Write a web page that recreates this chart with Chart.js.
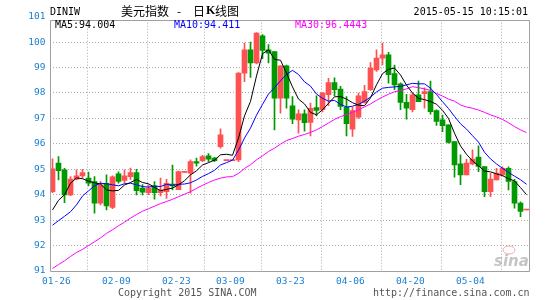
<!DOCTYPE html>
<html>
<head>
<meta charset="utf-8">
<script src="https://cdn.jsdelivr.net/npm/chart.js@4.4.0/dist/chart.umd.min.js"></script>
<style>
  html, body { margin: 0; padding: 0; background: #fff; }
  #wrap { width: 545px; height: 300px; }
</style>
</head>
<body>
<div id="wrap"><canvas id="kChart" width="545" height="300"></canvas></div>
<script>
// trading days shown on the chart
const dates = ["01-23",
  "01-26", "01-27", "01-28", "01-29", "01-30", "02-02", "02-03", "02-04", "02-05", "02-06",
  "02-09", "02-10", "02-11", "02-12", "02-13", "02-16", "02-17", "02-18", "02-19", "02-20",
  "02-23", "02-24", "02-25", "02-26", "03-02", "03-03", "03-04", "03-05", "03-06",
  "03-09", "03-10", "03-11", "03-12", "03-13", "03-16", "03-17", "03-18", "03-19", "03-20",
  "03-23", "03-24", "03-25", "03-26", "03-27", "03-30", "03-31", "04-01", "04-02", "04-03",
  "04-06", "04-07", "04-08", "04-09", "04-10", "04-13", "04-14", "04-15", "04-16", "04-17",
  "04-20", "04-21", "04-22", "04-23", "04-24", "04-27", "04-28", "04-29", "04-30", "05-01",
  "05-04", "05-05", "05-06", "05-07", "05-08", "05-11", "05-12", "05-13", "05-14", "05-15"];

const opens = [94.12, 95.24, 94.98, 93.99, 94.61, 94.74, 94.65, 94.52, 93.67, 94.45,
  93.50, 94.82, 94.56, 94.71, 94.87, 94.26, 94.08, 94.35, 94.08, 94.12,
  94.42, 94.20, 94.88, 94.85, 95.30, 95.34, 95.53, 95.44, 95.89, 95.34,
  95.34, 95.37, 98.78, 99.70, 99.18, 100.25, 99.70, 99.63, 97.80, 99.07,
  97.50, 96.94, 97.18, 96.84, 97.43, 97.34, 97.93, 98.41, 98.15, 97.44,
  96.58, 97.05, 97.63, 98.13, 98.91, 99.37, 99.50, 98.76, 98.36, 97.63,
  97.34, 97.93, 97.97, 98.06, 97.31, 96.94, 96.75, 96.09, 95.21, 94.78,
  95.21, 95.48, 95.11, 94.12, 94.58, 94.78, 95.04, 94.52, 93.67, 93.40];

const highs = [95.41, 95.50, 95.04, 94.71, 94.98, 95.00, 94.89, 94.71, 94.52, 94.78,
  94.74, 94.90, 94.98, 95.05, 95.00, 94.40, 94.39, 94.52, 94.65, 94.60,
  95.17, 94.93, 94.88, 95.37, 95.44, 95.55, 95.62, 95.47, 96.59, 95.34,
  95.34, 98.80, 99.96, 100.00, 100.38, 100.30, 99.90, 99.63, 99.07, 99.10,
  97.86, 97.34, 97.34, 97.60, 97.89, 98.02, 98.58, 98.60, 98.26, 97.86,
  97.45, 98.00, 98.30, 99.20, 99.70, 99.96, 99.60, 99.10, 98.40, 97.95,
  98.00, 98.47, 98.20, 98.47, 97.34, 97.13, 96.75, 96.09, 95.57, 95.39,
  95.76, 95.92, 95.11, 94.85, 95.04, 95.10, 95.10, 94.60, 93.72, 93.40];

const lows = [94.08, 94.58, 93.69, 93.96, 94.58, 94.65, 94.35, 93.27, 93.60, 93.40,
  93.45, 94.45, 94.45, 94.60, 93.99, 93.99, 94.00, 93.82, 93.95, 93.85,
  94.19, 94.20, 94.88, 94.06, 95.12, 95.30, 95.30, 95.30, 95.83, 95.34,
  95.34, 95.30, 98.45, 98.61, 99.14, 99.35, 99.18, 96.55, 97.21, 97.40,
  96.79, 96.42, 96.50, 96.31, 97.10, 97.26, 97.50, 97.88, 97.34, 96.31,
  96.29, 97.00, 97.60, 98.10, 98.85, 99.10, 98.39, 98.13, 97.34, 96.97,
  97.26, 97.66, 97.40, 97.17, 96.72, 96.48, 96.03, 94.69, 94.39, 94.78,
  95.17, 94.91, 93.92, 93.92, 94.58, 94.74, 94.19, 93.47, 93.14, 93.40];

const closes = [95.02, 94.95, 93.99, 94.61, 94.74, 94.87, 94.45, 93.67, 94.39, 93.56,
  94.70, 94.52, 94.74, 94.87, 94.16, 94.10, 94.26, 94.08, 94.18, 94.45,
  94.35, 94.91, 94.88, 95.30, 95.24, 95.50, 95.40, 95.34, 96.35, 95.34,
  95.34, 98.78, 99.70, 99.18, 100.36, 99.67, 99.57, 97.80, 99.07, 97.80,
  96.97, 97.18, 96.83, 97.40, 97.31, 98.00, 98.41, 98.13, 97.47, 96.79,
  97.31, 97.89, 98.06, 98.98, 99.37, 99.50, 98.72, 98.32, 97.63, 97.40,
  97.93, 97.66, 98.06, 97.27, 96.88, 96.71, 96.06, 95.17, 94.78, 95.24,
  95.40, 95.11, 94.12, 94.61, 94.85, 95.04, 94.52, 93.67, 93.34, 93.40];

const ma5 = [93.40, 93.78, 94.00, 94.45, 94.66, 94.63, 94.53, 94.47, 94.42, 94.19,
  94.15, 94.17, 94.38, 94.48, 94.60, 94.48, 94.43, 94.29, 94.16, 94.21,
  94.26, 94.39, 94.55, 94.78, 94.94, 95.17, 95.26, 95.36, 95.57, 95.59,
  95.55, 96.23, 97.10, 97.67, 98.67, 99.54, 99.70, 99.32, 99.29, 98.78,
  98.24, 97.76, 97.57, 97.24, 97.14, 97.34, 97.59, 97.85, 97.86, 97.76,
  97.62, 97.52, 97.50, 97.81, 98.32, 98.76, 98.93, 98.98, 98.71, 98.31,
  98.00, 97.79, 97.74, 97.66, 97.56, 97.32, 97.00, 96.42, 95.92, 95.59,
  95.33, 95.14, 94.93, 94.90, 94.82, 94.75, 94.63, 94.54, 94.28, 94.004];

const ma10 = [92.80, 92.98, 93.15, 93.33, 93.60, 93.95, 94.15, 94.35, 94.45, 94.43,
  94.39, 94.35, 94.43, 94.45, 94.39, 94.32, 94.30, 94.34, 94.32, 94.41,
  94.37, 94.41, 94.42, 94.47, 94.58, 94.72, 94.83, 94.96, 95.17, 95.26,
  95.36, 95.75, 96.23, 96.62, 97.13, 97.55, 97.96, 98.21, 98.48, 98.73,
  98.89, 98.73, 98.44, 98.27, 97.96, 97.79, 97.68, 97.71, 97.55, 97.45,
  97.48, 97.55, 97.68, 97.84, 98.04, 98.19, 98.22, 98.24, 98.26, 98.32,
  98.38, 98.36, 98.36, 98.19, 97.94, 97.66, 97.39, 97.08, 96.79, 96.58,
  96.32, 96.07, 95.67, 95.41, 95.21, 95.04, 94.88, 94.73, 94.59, 94.411];

const ma30 = [91.10, 91.25, 91.40, 91.57, 91.73, 91.85, 92.00, 92.15, 92.30, 92.48,
  92.62, 92.78, 92.92, 93.08, 93.22, 93.35, 93.45, 93.55, 93.65, 93.73,
  93.82, 93.92, 94.02, 94.12, 94.25, 94.37, 94.48, 94.58, 94.65, 94.70,
  94.71, 94.84, 95.03, 95.18, 95.37, 95.53, 95.70, 95.83, 95.99, 96.13,
  96.21, 96.30, 96.37, 96.45, 96.55, 96.68, 96.82, 96.96, 97.07, 97.15,
  97.24, 97.34, 97.45, 97.57, 97.71, 97.84, 97.95, 98.05, 98.10, 98.16,
  98.25, 98.21, 98.16, 98.10, 97.98, 97.88, 97.76, 97.68, 97.53, 97.45,
  97.40, 97.33, 97.24, 97.14, 97.06, 96.96, 96.83, 96.68, 96.55, 96.4443];

const tickDates = ["01-26", "02-09", "02-23", "03-09", "03-23", "04-06", "04-20", "05-04"];
const yMin = 91, yMax = 101;

const UP = '#ff5151';
const DOWN = '#009a00';
const LABEL = '#1a7fd0';
const MONO = '"DejaVu Sans Mono", monospace';
const CJK = '"Noto Sans CJK SC"';

const candleColors = closes.map((c, i) => c >= opens[i] ? UP : DOWN);
const tickPos = tickDates.map(d => dates.indexOf(d) - 0.1);
const last = closes.length - 1;

const frameAndText = {
    id: 'frameAndText',
    beforeDatasetsDraw(chart) {
        // grid lines stop at the frame top, above it is the header row
        const c = chart.ctx, a = chart.chartArea;
        c.save();
        c.fillStyle = '#fff';
        c.fillRect(a.left, 0, a.right - a.left + 2, 20);
        c.restore();
    },
    afterDraw(chart) {
        const c = chart.ctx, a = chart.chartArea;
        c.save();
        c.strokeStyle = '#a0a0a0';
        c.lineWidth = 1;
        c.beginPath();
        c.moveTo(a.left + 0.5, 20.5);
        c.lineTo(a.right + 0.5, 20.5);
        c.lineTo(a.right + 0.5, a.bottom + 0.5);
        c.lineTo(a.left + 0.5, a.bottom + 0.5);
        c.closePath();
        c.stroke();

        c.textBaseline = 'middle';
        c.font = '10px ' + MONO;
        c.fillStyle = '#000';
        c.fillText('DINIW', 50, 12);
        c.textAlign = 'right';
        c.fillText('2015-05-15 10:15:01', 528, 12);
        c.textAlign = 'left';

        c.fillStyle = '#000';
        c.fillText('MA5:' + ma5[last].toFixed(3), 55, 25);
        c.fillStyle = '#0000ff';
        c.fillText('MA10:' + ma10[last].toFixed(3), 174, 25);
        c.fillStyle = '#ff00ff';
        c.fillText('MA30:' + ma30[last].toFixed(4), 295, 25);

        // title, spaced like the original
        c.fillStyle = '#000';
        c.font = '12px ' + CJK;
        c.fillText('美元指数', 121, 11);
        c.fillText('-', 177, 11);
        c.fillText('日', 193, 11);
        c.font = 'bold 12px "Liberation Serif"';
        c.fillText('K', 206, 11);
        c.font = '12px ' + CJK;
        c.fillText('线图', 215, 11);

        // footer
        c.fillStyle = '#555';
        c.font = '10px ' + MONO;
        c.fillText('Copyright 2015 SINA.COM', 118, 293);
        c.fillText('http://finance.sina.com.cn', 373, 293);

        // sina watermark
        c.fillStyle = 'rgba(150,150,150,0.55)';
        c.font = 'italic bold 15px "DejaVu Sans"';
        c.fillText('sina', 494, 262);
        c.strokeStyle = 'rgba(230,120,120,0.6)';
        c.beginPath();
        c.ellipse(509, 250, 6, 4, 0, 0, Math.PI * 2);
        c.stroke();
        c.restore();
    }
};

new Chart(document.getElementById('kChart'), {
    type: 'bar',
    data: {
        datasets: [
            {
                type: 'line', label: 'MA5', order: 0,
                data: ma5.map((v, i) => ({ x: i, y: v })),
                borderColor: '#000', borderWidth: 1, pointRadius: 0, tension: 0
            },
            {
                type: 'line', label: 'MA10', order: 0,
                data: ma10.map((v, i) => ({ x: i, y: v })),
                borderColor: '#0000ff', borderWidth: 1, pointRadius: 0, tension: 0
            },
            {
                type: 'line', label: 'MA30', order: 0,
                data: ma30.map((v, i) => ({ x: i, y: v })),
                borderColor: '#ff00ff', borderWidth: 1, pointRadius: 0, tension: 0
            },
            {
                label: 'body', order: 1, grouped: false,
                data: opens.map((o, i) => ({ x: i, y: [o, closes[i]] })),
                backgroundColor: candleColors, barThickness: 5, minBarLength: 1
            },
            {
                label: 'wick', order: 2, grouped: false,
                data: lows.map((l, i) => ({ x: i, y: [l, highs[i]] })),
                backgroundColor: candleColors, barThickness: 1
            }
        ]
    },
    options: {
        responsive: false,
        animation: false,
        layout: { padding: { left: 0, right: 16, top: 16.7, bottom: 0 } },
        plugins: { legend: { display: false }, tooltip: { enabled: false } },
        scales: {
            x: {
                type: 'linear',
                min: -0.417,
                max: last + 0.417,
                offset: false,
                afterFit: s => { s.height = 29; },
                afterBuildTicks: s => { s.ticks = tickPos.map(v => ({ value: v })); },
                grid: { color: '#aaaaaa', drawTicks: false },
                border: { display: false, dash: [1, 2] },
                ticks: {
                    autoSkip: false, maxRotation: 0, padding: 5, labelOffset: -1.5,
                    color: LABEL, font: { family: MONO, size: 9.5 },
                    callback: (v, i) => tickDates[i]
                }
            },
            y: {
                min: yMin,
                max: yMax,
                afterFit: s => { s.width = 50; },
                grid: {
                    drawTicks: false,
                    color: c => (c.tick.value > yMin && c.tick.value < yMax) ? '#aaaaaa' : 'rgba(0,0,0,0)'
                },
                border: { display: false, dash: [1, 2] },
                ticks: {
                    stepSize: 1, padding: 4.5,
                    color: LABEL, font: { family: MONO, size: 9.5 }
                }
            }
        }
    },
    plugins: [frameAndText]
});
</script>
</body>
</html>
